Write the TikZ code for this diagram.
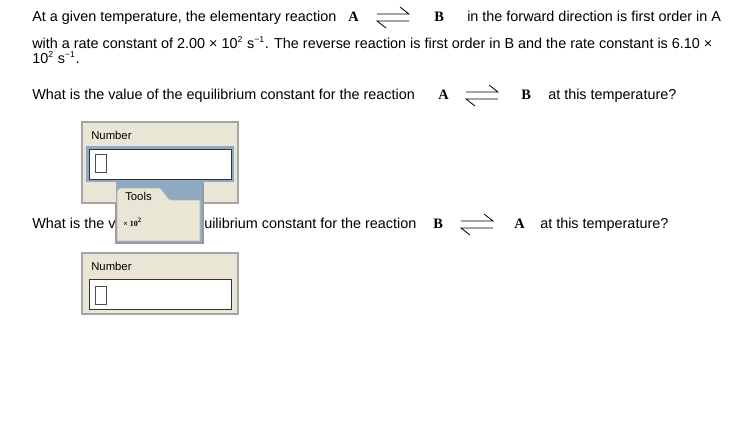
\documentclass[tikz,border=0pt]{standalone}
\usepackage{fontspec}
\setmainfont{Liberation Sans}
\newfontfamily\serifb{Liberation Serif}
\usetikzlibrary{calc}
\begin{document}
\begin{tikzpicture}[x=0.75pt,y=-0.75pt,
  txt/.style={anchor=base west,inner sep=0pt,font=\fontsize{10.8}{12}\selectfont},
  chem/.style={anchor=base west,inner sep=0pt,font=\serifb\bfseries\fontsize{10.8}{12}\selectfont},
  inp/.style={draw=black!80,fill=white,line width=0.6pt},
  cursor/.style={draw=black!70,fill=white,line width=0.5pt}]
\definecolor{beige}{HTML}{E9E6D6}
\definecolor{toolblue}{HTML}{8FAAC0}
\useasboundingbox (0,0) rectangle (742,443);
\newcommand\eqarrow[1]{%
  \draw[line width=0.6pt] ($(#1)+(-16,-3)$) -- ($(#1)+(16,-3)$) -- ($(#1)+(7,-10)$);
  \draw[line width=0.6pt] ($(#1)+(16,4)$) -- ($(#1)+(-16,4)$) -- ($(#1)+(-7,11)$);}
\newcommand\sps[1]{\textsuperscript{\fontsize{6.5}{7}\selectfont #1}}
% line 1
\node[txt] (l1) at (32,21) {At a given temperature, the elementary reaction};
\node[chem] (a1) at (348,21) {A};
\coordinate (e1) at (393,17);
\eqarrow{e1}
\node[chem] (b1) at (434,21) {B};
\node[txt] (l1b) at (467,21) {in the forward direction is first order in A};
\node[txt] (l2) at (32,48) {with a rate constant of 2.00 × 10\sps{2} s\sps{−1}. The reverse reaction is first order in B and the rate constant is 6.10 ×};
\node[txt] (l3) at (32,63) {10\sps{2} s\sps{−1}.};
\node[txt] (l4) at (32,99) {What is the value of the equilibrium constant for the reaction};
\node[chem] (a2) at (438,99) {A};
\coordinate (e2) at (482,95);
\eqarrow{e2}
\node[chem] (b2) at (521,99) {B};
\node[txt] (l4b) at (548,99) {at this temperature?};
% box 1
\fill[beige,draw=gray!70,line width=1.2pt] (82,122) rectangle (238,203);
\node[txt] (n1) at (91,139) {\fontsize{8.5}{9}\selectfont Number};
\fill[toolblue] (86,146) rectangle (234,182);
\draw[inp] (89,149) rectangle (231,179);
\draw[cursor] (95,154) rectangle (106,172);
% tools popup
\fill[toolblue] (116,182) rectangle (203,243);
\draw[gray!80,line width=0.8pt] (116,203) -- (116,243) -- (203,243) -- (203,182);
\fill[beige,draw=gray!60] (117,241) -- (117,192) to[out=90,in=180] (121,188) -- (160,188) -- (168,198) to[out=-45,in=180] (172,200) -- (200,200) -- (200,241) -- cycle;
\node[txt] (tools) at (125,200) {\fontsize{8.5}{9}\selectfont Tools};
\node[chem] (x10) at (123,226) {\fontsize{6}{7}\selectfont × 10\textsuperscript{2}};
% line 5
\node[txt] (l5) at (32,228) {What is the v};
\node[txt] (l5b) at (204,228) {uilibrium constant for the reaction};
\node[chem] (b3) at (433,228) {B};
\coordinate (e3) at (477,224);
\eqarrow{e3}
\node[chem] (a3) at (514,228) {A};
\node[txt] (l5c) at (540,228) {at this temperature?};
% box 2
\fill[beige,draw=gray!70,line width=1.2pt] (82,253) rectangle (238,314);
\node[txt] (n2) at (91,270) {\fontsize{8.5}{9}\selectfont Number};
\draw[inp] (89,279) rectangle (231,309);
\draw[cursor] (95,286) rectangle (106,304);
\end{tikzpicture}
\end{document}
